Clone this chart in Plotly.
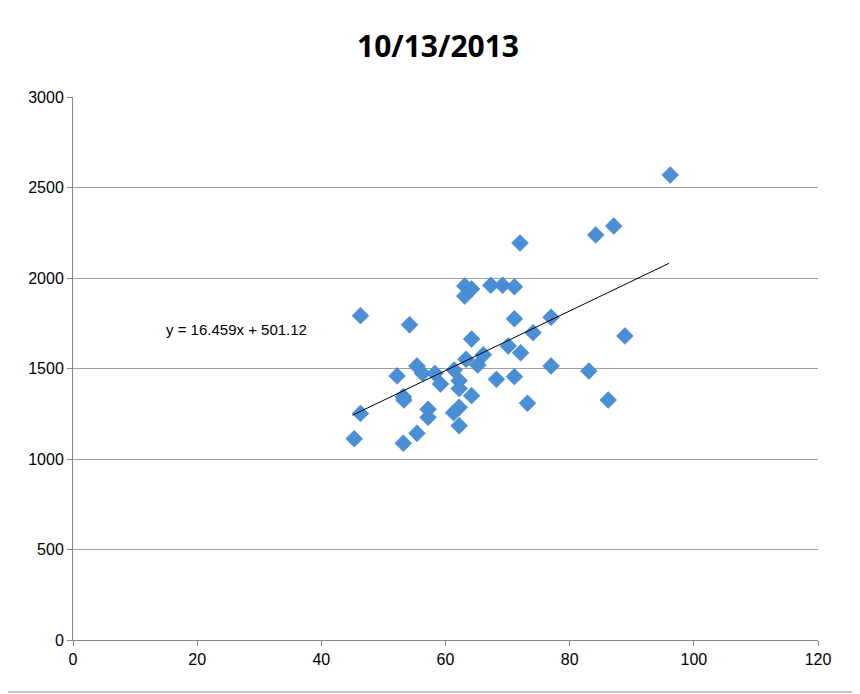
import numpy as np
import plotly.graph_objects as go

# scatter points
xVals = [46.3, 54.2, 63.1, 64.2, 63.1, 67.3, 69.2, 71.1, 71.1, 77.0, 74.1, 64.2, 70.1, 72.1,
         66.1, 63.3, 65.2, 77.0, 55.4, 56.3, 58.3, 52.2, 61.4, 59.2, 62.2, 62.2, 68.2, 71.1,
         53.2, 53.3, 64.2, 73.2, 57.2, 57.2, 62.2, 61.3, 46.3, 45.3, 55.4, 53.2, 62.2,
         83.1, 86.2, 88.9, 84.2, 87.1, 72.0, 96.2]
yVals = [1792, 1742, 1956, 1939, 1900, 1960, 1960, 1952, 1775, 1783, 1698, 1663, 1624, 1587,
         1576, 1551, 1519, 1514, 1514, 1473, 1473, 1459, 1492, 1414, 1433, 1389, 1440, 1455,
         1344, 1326, 1350, 1308, 1275, 1230, 1286, 1256, 1252, 1112, 1142, 1087, 1184,
         1486, 1326, 1680, 2238, 2287, 2193, 2569]

slope, intercept = 16.459, 501.12
trendX = [45, 96]
trendY = [slope * v + intercept for v in trendX]

fig = go.Figure()
fig.add_trace(go.Scatter(x=xVals, y=yVals, mode='markers',
                         marker=dict(symbol='diamond', size=13, color='#4a8fd6',
                                     line=dict(color='#3f7fc4', width=0.5))))
fig.add_trace(go.Scatter(x=trendX, y=trendY, mode='lines',
                         line=dict(color='black', width=1)))

fig.add_annotation(x=26.3, y=1713, text='y = 16.459x + 501.12', showarrow=False,
                   font=dict(family='Arial', size=15, color='black'))

fig.update_layout(
    width=860, height=694,
    title=dict(text='<b>10/13/2013</b>', x=0.5, xanchor='center', y=0.944, yanchor='middle',
               font=dict(family='Open Sans', size=30, color='black')),
    margin=dict(l=65, r=50, t=89, b=62),
    showlegend=False,
    plot_bgcolor='white', paper_bgcolor='white',
    font=dict(family='Arial', size=16, color='black'),
    xaxis=dict(range=[0, 120], dtick=20, showgrid=False, zeroline=False,
               showline=True, linecolor='#888888', linewidth=1,
               ticks='outside', ticklen=5, tickcolor='#888888'),
    yaxis=dict(range=[0, 3000], dtick=500, showgrid=True, gridcolor='#a0a0a0',
               zeroline=False, showline=True, linecolor='#888888', linewidth=1,
               ticks='outside', ticklen=5, tickcolor='#888888'),
    shapes=[dict(type='rect', xref='paper', yref='paper', x0=-0.0966, x1=1.0537,
                 y0=-0.0958, y1=1.1768, line=dict(color='#888888', width=1))],
)

fig.write_html("out.html")
